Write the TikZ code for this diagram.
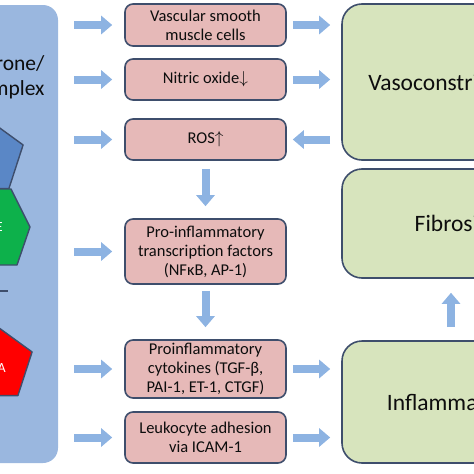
\documentclass[tikz,border=0pt]{standalone}
\usepackage{fontspec}
\setmainfont{Carlito}
\usetikzlibrary{arrows.meta, calc}

\definecolor{panelblue}{HTML}{9AB7DF}
\definecolor{arrowblue}{HTML}{8DB3E2}
\definecolor{edgeblue}{HTML}{3E4E6C}
\definecolor{pinkfill}{HTML}{E6B9B8}
\definecolor{greenfill}{HTML}{D7E4BD}
\definecolor{mrblue}{HTML}{5A87C6}
\definecolor{hexgreen}{HTML}{0DB14B}

\begin{document}
\begin{tikzpicture}[x=1pt, y=-1pt,
	pinkbox/.style={draw=edgeblue, line width=1.6pt, fill=pinkfill, rounded corners=8pt,
		minimum width=161pt, inner sep=0pt, align=center, text=black!95,
		font=\fontsize{16.5}{19}\selectfont},
	greenbox/.style={draw=edgeblue, line width=1.6pt, fill=greenfill, rounded corners=20pt,
		minimum width=218pt, text=black!95, font=\fontsize{23.5}{28}\selectfont},
	blockarrow/.style={arrowblue, line width=8pt, -{Triangle[width=18pt, length=11pt]}},
	shapeline/.style={draw=edgeblue, line width=1.4pt, line join=round}]

	\useasboundingbox (0,0) rectangle (474,474);
	\clip (0,0) rectangle (474,474);

	\coordinate (mr_c) at (-14,157);
	\coordinate (ra_c) at (-5,364);

	% Left panel
	\node[fill=panelblue, rounded corners=15pt, minimum width=160pt, minimum height=458pt] (panel) at (-22,234) {};
	\node[anchor=east, align=right, text=black!95, font=\fontsize{21.5}{25}\selectfont] (complex) at (48,77.5) {Aldosterone/\\MR complex};

	\draw[shapeline, fill=mrblue] ($(mr_c)+(270:39)$) -- ($(mr_c)+(342:39)$) -- ($(mr_c)+(54:39)$) -- ($(mr_c)+(126:39)$) -- ($(mr_c)+(198:39)$) -- cycle;
	\draw[shapeline, fill=hexgreen] (-60,189) -- (11,189) -- (30,227) -- (17,265) -- (-60,265) -- cycle;
	\draw[shapeline, fill=red] ($(ra_c)+(270:39)$) -- ($(ra_c)+(342:39)$) -- ($(ra_c)+(54:39)$) -- ($(ra_c)+(126:39)$) -- ($(ra_c)+(198:39)$) -- cycle;
	\draw[shapeline] (-10,291) -- (8,291);

	\node[anchor=east, text=white, inner sep=0pt, font=\fontsize{14}{16}\selectfont] (hexlabel) at (3,227) {E};
	\node[anchor=east, text=white, inner sep=0pt, font=\fontsize{14}{16}\selectfont] (pentlabel) at (6,368) {A};

	% Middle column
	\node[pinkbox, minimum height=42pt] (vsmc) at (205.5,25) {Vascular smooth\\muscle cells};
	\node[pinkbox, minimum height=41pt] (no) at (205.5,79.5) {Nitric oxide$\downarrow$};
	\node[pinkbox, minimum height=41pt] (ros) at (205.5,139.5) {ROS$\uparrow$};
	\node[pinkbox, minimum height=65pt] (tf) at (205.5,251.5) {Pro-inflammatory\\transcription factors\\(NFκB, AP-1)};
	\node[pinkbox, minimum height=58pt] (cyto) at (205.5,369) {Proinflammatory\\cytokines (TGF-β,\\PAI-1, ET-1, CTGF)};
	\node[pinkbox, minimum height=51pt] (leuk) at (205.5,437.5) {Leukocyte adhesion\\via ICAM-1};

	% Right column
	\node[greenbox, minimum height=156pt, text depth=0pt, xshift=0pt] (vaso) at (451,82) {\hspace*{-8pt}Vasoconstriction};
	\node[greenbox, minimum height=109pt] (fib) at (451,223.5) {Fibrosis};
	\node[greenbox, minimum height=122pt] (infl) at (451,402) {Inflammation};

	% Arrows from the panel
	\foreach \bx in {vsmc, no, ros, tf, cyto, leuk}
		\draw[blockarrow, shorten <=16pt, shorten >=12pt] (panel.east |- \bx.west) -- (\bx.west);

	% Arrows to the right column
	\draw[blockarrow, shorten <=6pt, shorten >=11pt] (vsmc.east) -- (vaso.west |- vsmc.east);
	\draw[blockarrow, shorten <=6pt, shorten >=11pt] (no.east) -- (vaso.west |- no.east);
	\draw[blockarrow, shorten <=11pt, shorten >=6pt] (vaso.west |- ros.east) -- (ros.east);
	\draw[blockarrow, shorten <=6pt, shorten >=11pt] (cyto.east) -- (infl.west |- cyto.east);
	\draw[blockarrow, shorten <=6pt, shorten >=11pt] (leuk.east) -- (infl.west |- leuk.east);

	% Vertical arrows
	\draw[blockarrow, shorten <=8pt, shorten >=12pt] (ros.south) -- (tf.north);
	\draw[blockarrow, shorten <=6pt, shorten >=12pt] (tf.south) -- (cyto.north);
	\draw[blockarrow, shorten <=13pt, shorten >=14pt] (infl.north) -- (fib.south);

\end{tikzpicture}
\end{document}
